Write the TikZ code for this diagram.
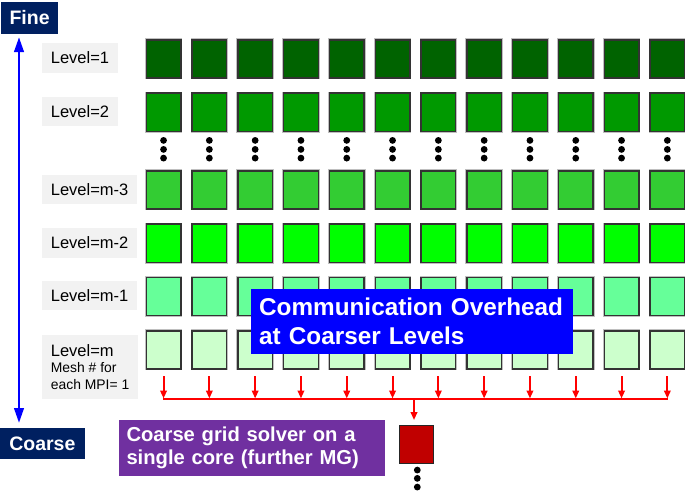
\documentclass[tikz,border=0pt]{standalone}
\usepackage{fontspec}
\setmainfont{Liberation Sans}
\usetikzlibrary{arrows.meta}
\definecolor{lvA}{RGB}{0,99,0}
\definecolor{lvB}{RGB}{0,153,0}
\definecolor{lvC}{RGB}{51,204,51}
\definecolor{lvD}{RGB}{0,255,0}
\definecolor{lvE}{RGB}{102,255,153}
\definecolor{lvF}{RGB}{204,255,204}
\definecolor{navy}{RGB}{0,32,96}
\definecolor{purp}{RGB}{112,48,160}
\definecolor{lblgray}{RGB}{242,242,242}
\definecolor{sqborder}{RGB}{51,51,51}
\definecolor{darkred}{RGB}{192,0,0}
\tikzset{
  sq/.style={draw=sqborder, line width=1.5pt, minimum width=34.6pt, minimum height=38.2pt, inner sep=0pt,
    preaction={draw=black!25, line width=3pt}},
  lbl/.style={fill=lblgray, inner xsep=9pt, inner ysep=0pt, minimum height=29.5pt, anchor=west,
    font=\fontsize{16.5}{19}\selectfont},
  endbox/.style={fill=navy, text=white, inner xsep=8pt, inner ysep=0pt, minimum height=32pt,
    font=\fontsize{19.5}{22}\selectfont\bfseries},
  rline/.style={draw=red, line width=2pt},
  rarrow/.style={draw=red, line width=2pt, -{Triangle[length=8pt,width=6.5pt]}},
  barrow/.style={draw=blue, line width=2.6pt, {Triangle[length=15pt,width=9.5pt]}-{Triangle[length=15pt,width=9.5pt]}},
  blk/.style={fill=black, circle, inner sep=0pt, minimum size=6.8pt},
}
\begin{document}
\begin{tikzpicture}[x=1pt,y=-1pt]
\useasboundingbox (0,0) rectangle (685,491);
% squares
\foreach \r/\t/\col in {1/38.3/lvA, 2/91.7/lvB, 3/169.3/lvC, 4/222.7/lvD, 5/276/lvE, 6/329.3/lvF}{
  \foreach \c in {1,...,12}{
    \node[sq, fill=\col, anchor=north west] (s-\r-\c) at ({145.5+45.8*(\c-1)}, {\t+0.7}) {};
  }
}
% dots under level 2
\foreach \c in {1,...,12}{
  \foreach \d/\o in {1/8.3, 2/17.3, 3/26}{
    \node[blk] (d-\c-\d) at ([yshift=-\o pt]s-2-\c.south) {};
  }
}
% labels
\node[lbl] (l1) at (41.7,57.8) {Level=1};
\node[lbl] (l2) at (41.7,111.7) {Level=2};
\node[lbl] (l3) at (41.7,189.7) {Level=m-3};
\node[lbl] (l4) at (41.7,242.8) {Level=m-2};
\node[lbl] (l5) at (41.7,295.7) {Level=m-1};
\node[lbl, anchor=north west, minimum height=63.3pt, align=left] (l6) at (41.7,335)
  {Level=m\\[-2.5pt]{\fontsize{13.9}{16.7}\selectfont Mesh \# for}\\[-2.5pt]{\fontsize{13.9}{16.7}\selectfont each MPI= 1}};
% fine / coarse
\node[endbox, anchor=north west, minimum width=56.7pt] (fine) at (1,1.3) {Fine};
\node[endbox, anchor=north west, minimum width=84.3pt, minimum height=31.3pt] (coarse) at (0,427.7) {Coarse};
\coordinate (axis) at (19,0);
\draw[barrow, shorten <=3.4pt, shorten >=4.7pt] (fine.south -| axis) -- (coarse.north -| axis);
% communication overhead box
\node[fill=blue, text=white, anchor=north west, text width=305.3pt, inner xsep=8pt, inner ysep=0pt,
  minimum height=65.7pt, align=left, font=\fontsize{24.3}{28.3}\selectfont\bfseries] (comm) at (251,288.3)
  {Communication Overhead\\at Coarser Levels};
% red arrows to bus
\coordinate (bus) at (0,398.5);
\foreach \c in {1,...,12}{
  \draw[rarrow] ([yshift=-6.5pt]s-6-\c.south) -- (s-6-\c.south |- bus);
}
\draw[rline, line cap=rect] (s-6-1.south |- bus) -- (s-6-12.south |- bus);
% coarse solver
\node[fill=darkred, draw=black!85, line width=1pt, minimum width=34pt, minimum height=38.3pt, inner sep=0pt] (rb) at (416.5,444.7) {};
\coordinate (drop) at (414,398.5);
\draw[rarrow, shorten >=5pt] (drop) -- (drop |- rb.north);
\foreach \d/\o in {1/5.7, 2/14, 3/22.7}{
  \node[blk] (e-\d) at ([xshift=0.8pt, yshift=-\o pt]rb.south) {};
}
\node[fill=purp, text=white, anchor=north west, text width=250pt, inner xsep=8pt, inner ysep=0pt,
  minimum height=56.7pt, align=left, font=\fontsize{20.2}{23.4}\selectfont\bfseries] (solver) at (118.3,419.3)
  {Coarse grid solver on a\\single core (further MG)};
\end{tikzpicture}
\end{document}
